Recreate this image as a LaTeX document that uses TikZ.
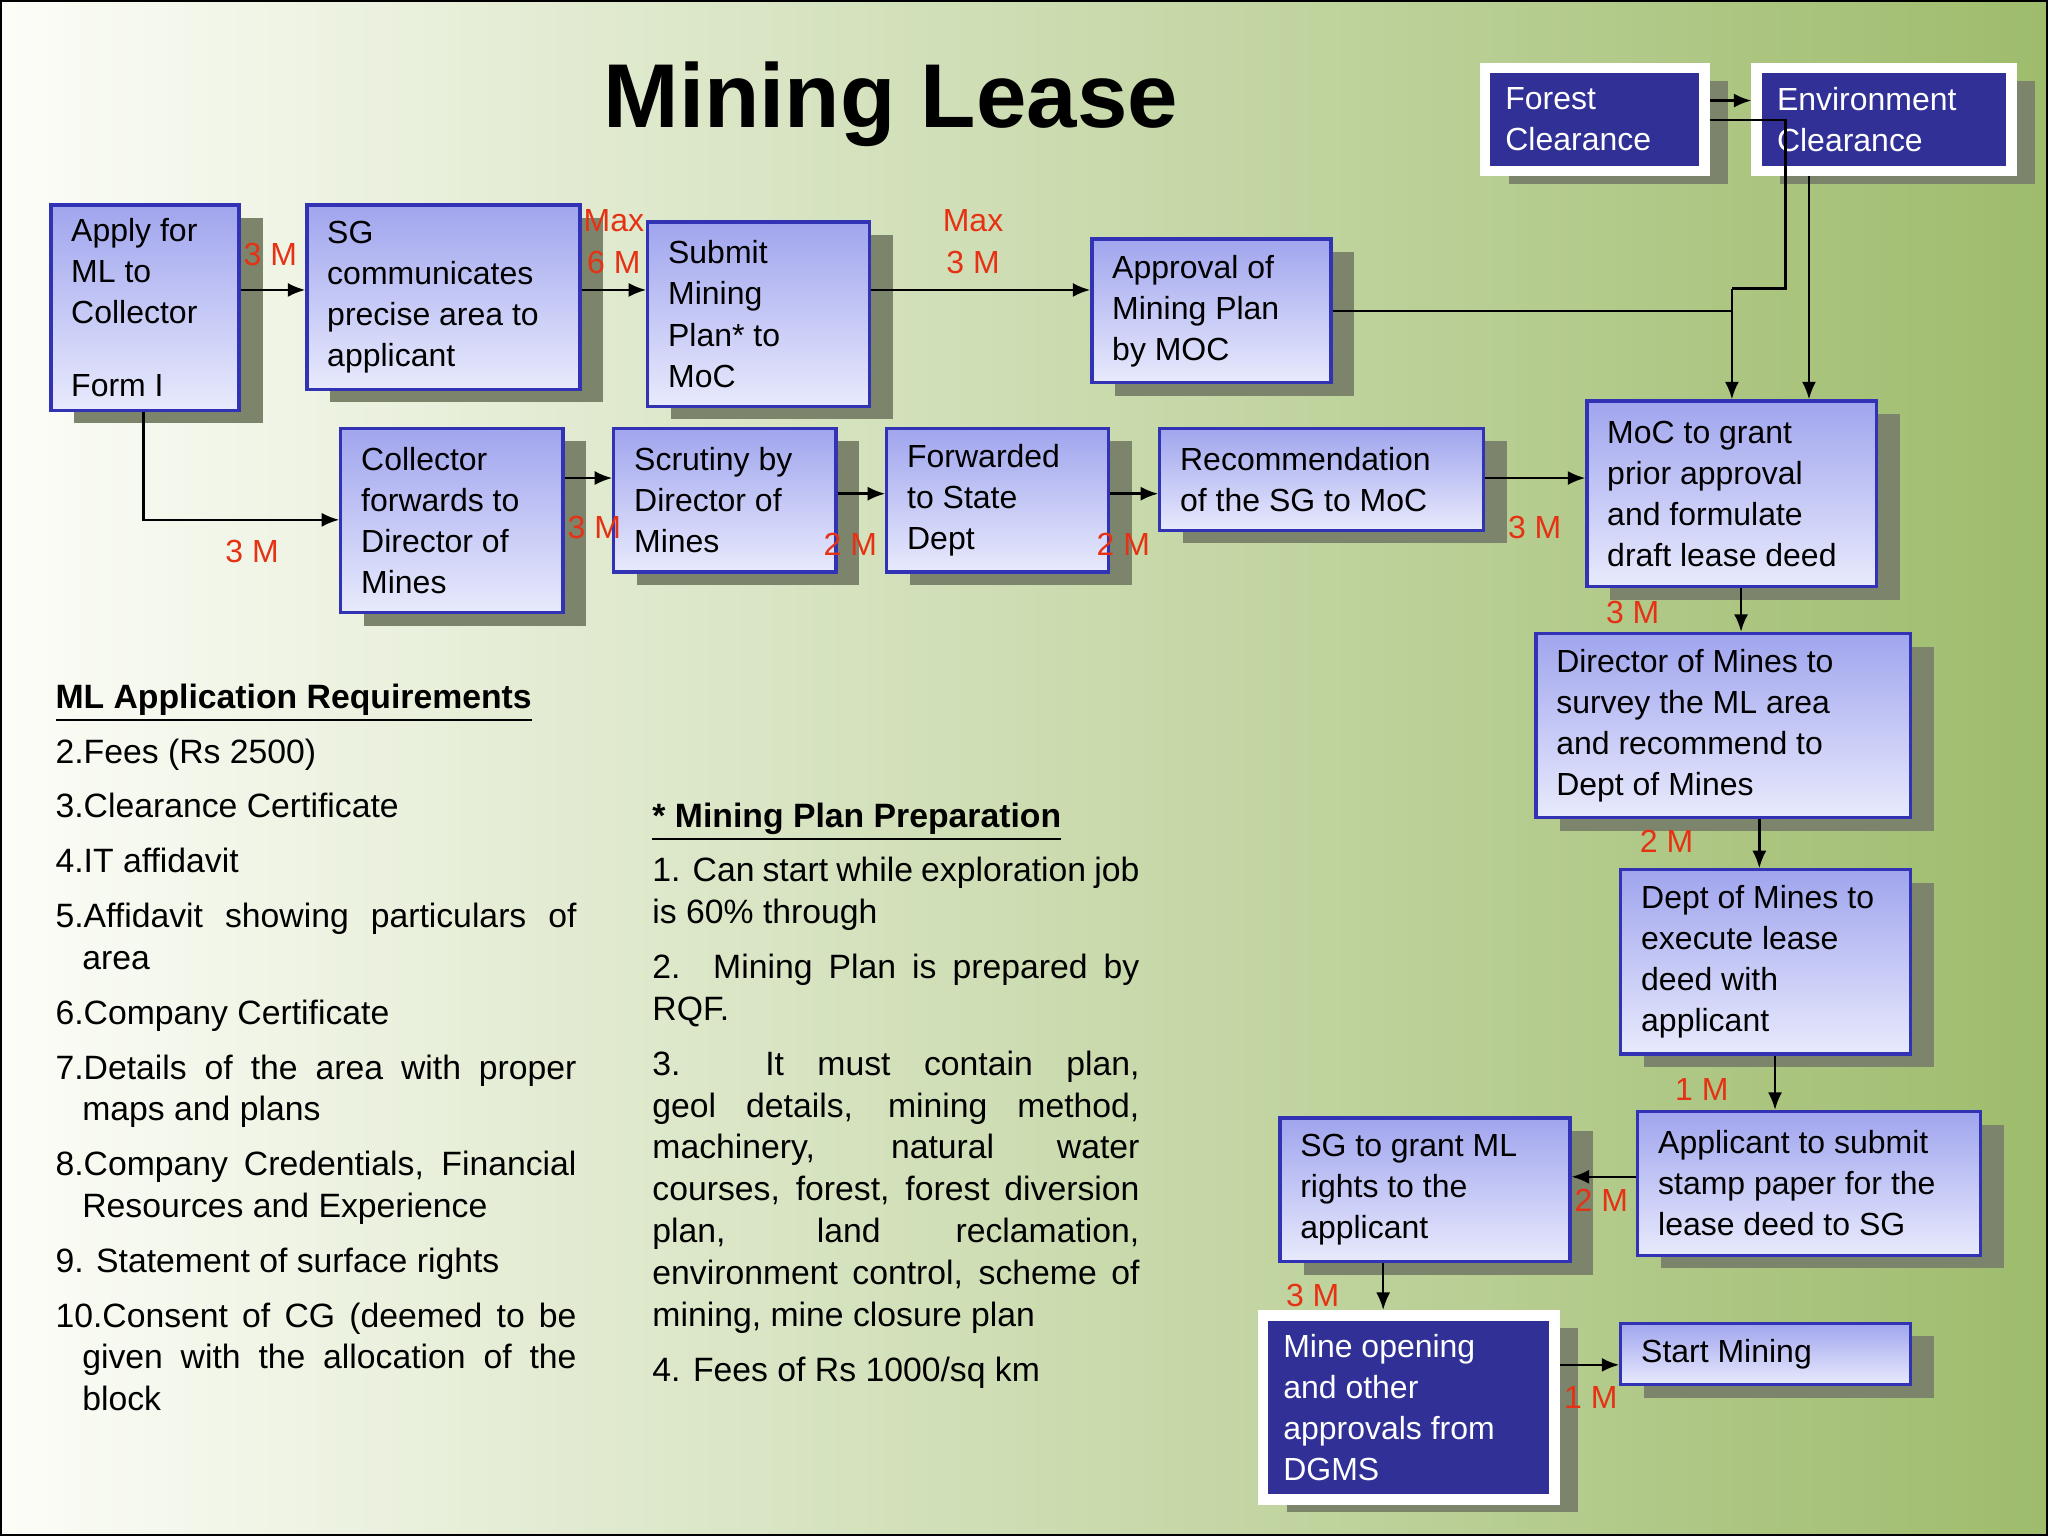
\documentclass[tikz,border=0pt]{standalone}
\usepackage{fontspec}
\setmainfont{Liberation Sans}
\usetikzlibrary{fit,calc,arrows.meta}
\definecolor{bgW}{RGB}{252,253,248}
\definecolor{bgG}{RGB}{158,188,108}
\definecolor{boxtop}{RGB}{160,165,238}
\definecolor{boxbot}{RGB}{232,234,252}
\definecolor{boxline}{RGB}{50,50,180}
\definecolor{shad}{RGB}{125,132,108}
\definecolor{dark}{RGB}{48,48,150}
\definecolor{lab}{RGB}{230,50,20}
\tikzset{
  box/.style={inner sep=0pt, draw=boxline, line width=0.9pt, top color=boxtop, bottom color=boxbot},
  dbox/.style={inner sep=0pt, draw=white, line width=3pt, fill=dark},
  txt/.style={anchor=west, align=left, inner sep=0pt, font=\fontsize{9.1}{11.7}\selectfont},
  lbl/.style={text=lab, align=center, inner sep=0pt, font=\fontsize{9.1}{11.7}\selectfont},
  arr/.style={-{Latex[length=5pt,width=4pt]}, line width=0.7pt},
  ln/.style={line width=0.7pt},
  para/.style={anchor=north west, inner sep=0pt, align=justify, font=\fontsize{9.6}{11.9}\selectfont}
}
\newcommand\bx[6]{%
  \fill[shad] (#2+18,#3+10) rectangle (#4+18,#5+10);
  \node[box, fit={(#2,#3)(#4,#5)}] (#1) {};
  \node[txt] at (#2+15,{(#3+#5)/2}) {#6};}
\newcommand\dbx[6]{%
  \fill[shad] (#2+18,#3+10) rectangle (#4+18,#5+10);
  \node[dbox, fit={(#2,#3)(#4,#5)}] (#1) {};
  \node[txt, text=white] at (#2+15,{(#3+#5)/2}) {#6};}
\newcommand\hi{\hangindent=7.6pt\hangafter=1 }
\newcommand\reqtext{%
  \hyphenpenalty=10000\exhyphenpenalty=10000
  \setlength{\parskip}{3.7pt}%
  \textbf{\underline{ML Application Requirements}}\par
  \hi 2.Fees (Rs 2500)\par
  \hi 3.Clearance Certificate\par
  \hi 4.IT affidavit\par
  \hi 5.Affidavit showing particulars of area\par
  \hi 6.Company Certificate\par
  \hi 7.Details of the area with proper maps and plans\par
  \hi 8.Company Credentials, Financial Resources and Experience\par
  \hi 9. Statement of surface rights\par
  \hi 10.Consent of CG (deemed to be given with the allocation of the block\par}
\newcommand\mpptext{%
  \hyphenpenalty=10000\exhyphenpenalty=10000
  \setlength{\parskip}{3.7pt}%
  \textbf{\underline{* Mining Plan Preparation}}\par
  1. Can start while exploration job is 60\% through\par
  2. Mining Plan is prepared by RQF.\par
  3. It must contain plan, geol details, mining method, machinery, natural water courses, forest, forest diversion plan, land reclamation, environment control, scheme of mining, mine closure plan\par
  4. Fees of Rs 1000/sq km\par}
\begin{document}
\begin{tikzpicture}[x=0.013061cm,y=-0.013061cm]
\useasboundingbox (0,0) rectangle (1568,1176);
\shade[left color=bgW, right color=bgG] (0,0) rectangle (1568,1176);
\draw[line width=1pt] (0.5,0.5) rectangle (1567.5,1175.5);
\node[font=\fontsize{25.8}{28}\selectfont\bfseries] (title) at (682,80) {Mining Lease};

\bx{apply}{39}{157}{183}{314}{Apply for\\ML to\\Collector\\[9pt]Form I}
\bx{sg}{235}{157}{444}{298}{SG\\communicates\\precise area to\\applicant}
\bx{submit}{496}{170}{666}{311}{Submit\\Mining\\Plan* to\\MoC}
\bx{approval}{836}{183}{1019}{293}{Approval of\\Mining Plan\\by MOC}
\dbx{forest}{1137}{52}{1305}{131}{Forest\\Clearance}
\dbx{env}{1345}{52}{1540}{131}{Environment\\Clearance}
\bx{collector}{261}{328}{431}{469}{Collector\\forwards to\\Director of\\Mines}
\bx{scrutiny}{470}{328}{640}{438}{Scrutiny by\\Director of\\Mines}
\bx{forwarded}{679}{328}{849}{438}{Forwarded\\to State\\Dept}
\bx{recomm}{888}{328}{1136}{406}{Recommendation\\of the SG to MoC}
\bx{moc}{1215}{307}{1437}{449}{MoC to grant\\prior approval\\and formulate\\draft lease deed}
\bx{director}{1176}{485}{1463}{626}{Director of Mines to\\survey the ML area\\and recommend to\\Dept of Mines}
\bx{dept}{1241}{666}{1463}{807}{Dept of Mines to\\execute lease\\deed with\\applicant}
\bx{applicant}{1254}{851}{1516}{961}{Applicant to submit\\stamp paper for the\\lease deed to SG}
\bx{sggrant}{980}{856}{1202}{966}{SG to grant ML\\rights to the\\applicant}
\dbx{mine}{967}{1007}{1190}{1148}{Mine opening\\and other\\approvals from\\DGMS}
\bx{start}{1241}{1013}{1463}{1060}{Start Mining}

\draw[arr] (apply.east|-0,222) -- (sg.west|-0,222);
\draw[arr] (sg.east|-0,222) -- (submit.west|-0,222);
\draw[arr] (submit.east|-0,222) -- (approval.west|-0,222);
\draw[arr] (apply.south-|110,0) |- (collector.west|-0,398);
\draw[arr] (collector.east|-0,366) -- (scrutiny.west|-0,366);
\draw[arr] (scrutiny.east|-0,378) -- (forwarded.west|-0,378);
\draw[arr] (forwarded.east|-0,378) -- (recomm.west|-0,378);
\draw[arr] (recomm.east|-0,366) -- (moc.west|-0,366);
\draw[ln] (approval.east|-0,238) -- (1326,238);
\draw[arr] (1326,221) -- (moc.north-|1326,0);
\draw[arr] (forest.east|-0,77) -- (env.west|-0,77);
\draw[ln] (forest.east|-0,92) -- (1367,92) -- (1367,221) -- (1326,221);
\draw[arr] (env.south-|1385,0) -- (moc.north-|1385,0);
\draw[arr] (moc.south-|1333,0) -- (director.north-|1333,0);
\draw[arr] (director.south-|1347,0) -- (dept.north-|1347,0);
\draw[arr] (dept.south-|1359,0) -- (applicant.north-|1359,0);
\draw[arr] (applicant.west|-0,901) -- (sggrant.east|-0,901);
\draw[arr] (sggrant.south-|1059,0) -- (mine.north-|1059,0);
\draw[arr] (mine.east|-0,1045) -- (start.west|-0,1045);

\node[lbl] at (207,195) {3 M};
\node[lbl] at (470,185) {Max\\6 M};
\node[lbl] at (745,185) {Max\\3 M};
\node[lbl] at (193,422) {3 M};
\node[lbl] at (455,404) {3 M};
\node[lbl] at (651,417) {2 M};
\node[lbl] at (860,417) {2 M};
\node[lbl] at (1175,404) {3 M};
\node[lbl] at (1250,469) {3 M};
\node[lbl] at (1276,644) {2 M};
\node[lbl] at (1303,834) {1 M};
\node[lbl] at (1226,919) {2 M};
\node[lbl] at (1005,992) {3 M};
\node[lbl] at (1218,1070) {1 M};

\node[para, text width=5.21cm] (req) at (42,523) {\reqtext};
\node[para, text width=4.87cm] (mpp) at (499,614) {\mpptext};
\end{tikzpicture}
\end{document}
